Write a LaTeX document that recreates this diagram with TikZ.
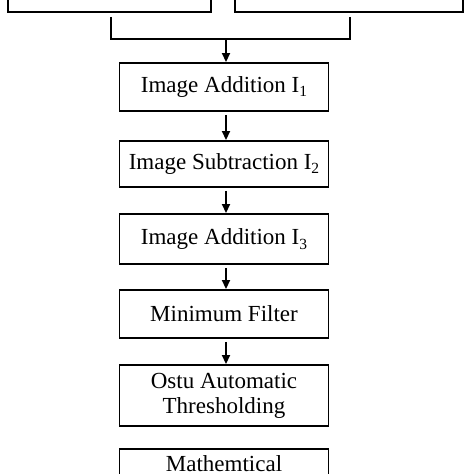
\documentclass[tikz,border=0pt]{standalone}
\usepackage{fontspec}
\setmainfont{Liberation Serif}
\usetikzlibrary{arrows.meta}
\newcommand{\subidx}[1]{{\fontsize{15.5}{15.5}\selectfont\raisebox{-4.5pt}{#1}}}
\begin{document}
\begin{tikzpicture}[x=1pt,y=-1pt,
  box/.style={draw, line width=1.9pt, inner sep=0pt, minimum width=209pt,
    align=center, font=\fontsize{23}{25}\selectfont},
  link/.style={line width=1.7pt},
  arr/.style={line width=1.7pt, -{Triangle[length=9pt,width=8pt]}, shorten <=3pt}]
\useasboundingbox (0,0) rectangle (474,474);
\clip (0,0) rectangle (474,474);
\fill[white] (0,0) rectangle (474,474);
% top boxes (cut by the page edge)
\node[box, minimum width=203pt, minimum height=60pt] (L) at (109.5,-18) {};
\node[box, minimum width=228pt, minimum height=60pt] (R) at (349,-18) {};
\node[box, minimum height=48pt] (b1) at (224,87) {Image Addition I\subidx{1}};
\node[box, minimum height=46pt] (b2) at (224,164) {Image Subtraction I\subidx{2}};
\node[box, minimum height=50pt] (b3) at (224,239) {Image Addition I\subidx{3}};
\node[box, minimum height=48pt] (b4) at (224,314) {Minimum Filter};
\node[box, minimum height=61pt] (b5) at (224,395.5) {Ostu Automatic\\Thresholding};
\node[box, minimum height=62pt] (b6) at (224,480) {Mathemtical\\\strut};
\coordinate (mid) at (226,39);
\draw[link, shorten <=4pt] ([xshift=1.5pt]L.south) |- (mid);
\draw[link, shorten <=4pt] ([xshift=1pt]R.south) |- (mid);
\draw[arr, shorten <=0pt] (mid) -- (mid |- b1.north);
\draw[arr] ([xshift=2pt]b1.south) -- ([xshift=2pt]b2.north);
\draw[arr] ([xshift=2pt]b2.south) -- ([xshift=2pt]b3.north);
\draw[arr] ([xshift=2pt]b3.south) -- ([xshift=2pt]b4.north);
\draw[arr] ([xshift=2pt]b4.south) -- ([xshift=2pt]b5.north);
\end{tikzpicture}
\end{document}
